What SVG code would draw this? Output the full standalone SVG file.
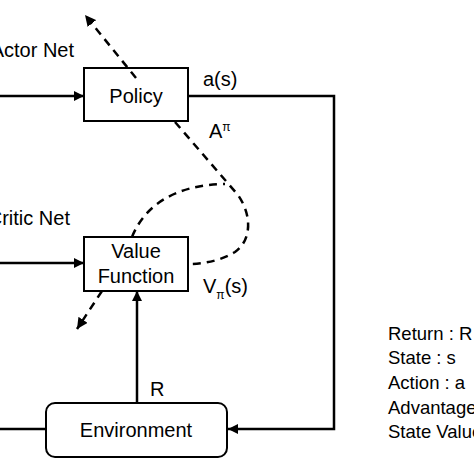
<svg xmlns="http://www.w3.org/2000/svg" width="474" height="474" viewBox="0 0 474 474">
<defs>
<marker id="ah" viewBox="0 0 10 10" refX="10" refY="5" markerWidth="10" markerHeight="10" markerUnits="userSpaceOnUse" orient="auto">
<path d="M0,0 L10,5 L0,10 z" fill="#000"/>
</marker>
<marker id="ahd" viewBox="0 0 10 10" refX="10" refY="5" markerWidth="11" markerHeight="11" markerUnits="userSpaceOnUse" orient="auto">
<path d="M0,0 L10,5 L0,10 z" fill="#000"/>
</marker>
</defs>
<style>
.box{fill:#fff;stroke:#000;stroke-width:2}
.ln{fill:none;stroke:#000;stroke-width:2.5}
.dash{fill:none;stroke:#000;stroke-width:2.5;stroke-dasharray:8 6}
.t{font-family:"Liberation Sans",Arial,sans-serif;font-size:20px;fill:#000}
.lg{font-family:"Liberation Sans",Arial,sans-serif;font-size:18.5px;fill:#000}
</style>
<rect width="474" height="474" fill="#fff"/>
<g id="connectors">
<line class="ln" x1="0" y1="96" x2="84" y2="96" marker-end="url(#ah)"/>
<line class="ln" x1="0" y1="263" x2="84" y2="263" marker-end="url(#ah)"/>
<line class="ln" x1="0" y1="429" x2="46" y2="429"/>
<polyline class="ln" points="188,96 334,96 334,429 228,429" marker-end="url(#ah)"/>
<line class="ln" x1="137" y1="403" x2="137" y2="291" marker-end="url(#ah)"/>
<path class="dash" d="M175,122 L238,195 C252,215 252,240 235,252 C222,260 205,264 188,264"/>
<path class="dash" d="M132,237 C145,205 175,185 225,184"/>
<path class="dash" d="M102,291 L77,329" marker-end="url(#ahd)"/>
</g>
<g id="policy">
<rect class="box" x="84" y="68" width="104" height="53"/>
<text class="t" x="136" y="103" text-anchor="middle">Policy</text>
</g>
<path class="dash" d="M136,78 L85,15" marker-end="url(#ahd)"/>
<g id="value-function">
<rect class="box" x="84" y="237" width="104" height="54"/>
<text class="t" x="136" y="258" text-anchor="middle">Value</text>
<text class="t" x="136" y="283" text-anchor="middle">Function</text>
</g>
<g id="environment">
<rect class="box" x="46" y="403" width="181" height="54" rx="9"/>
<text class="t" x="136" y="437" text-anchor="middle">Environment</text>
</g>
<g id="labels">
<text class="t" x="74" y="57" text-anchor="end" font-size="20.5">Actor Net</text>
<text class="t" x="70" y="225" text-anchor="end" font-size="20.5">Critic Net</text>
<text class="t" x="203" y="86">a(s)</text>
<text class="t" x="209" y="138" font-size="19">A<tspan font-size="12" dy="-7">π</tspan></text>
<text class="t" x="203" y="293">V<tspan font-size="12" dy="6">π</tspan><tspan dy="-6">(s)</tspan></text>
<text class="t" x="150" y="396">R</text>
</g>
<g id="legend">
<text class="lg" x="388" y="340">Return : R</text>
<text class="lg" x="388" y="364">State  : s</text>
<text class="lg" x="388" y="389">Action : a</text>
<text class="lg" x="388" y="414">Advantage</text>
<text class="lg" x="388" y="438">State Value</text>
</g>
</svg>
